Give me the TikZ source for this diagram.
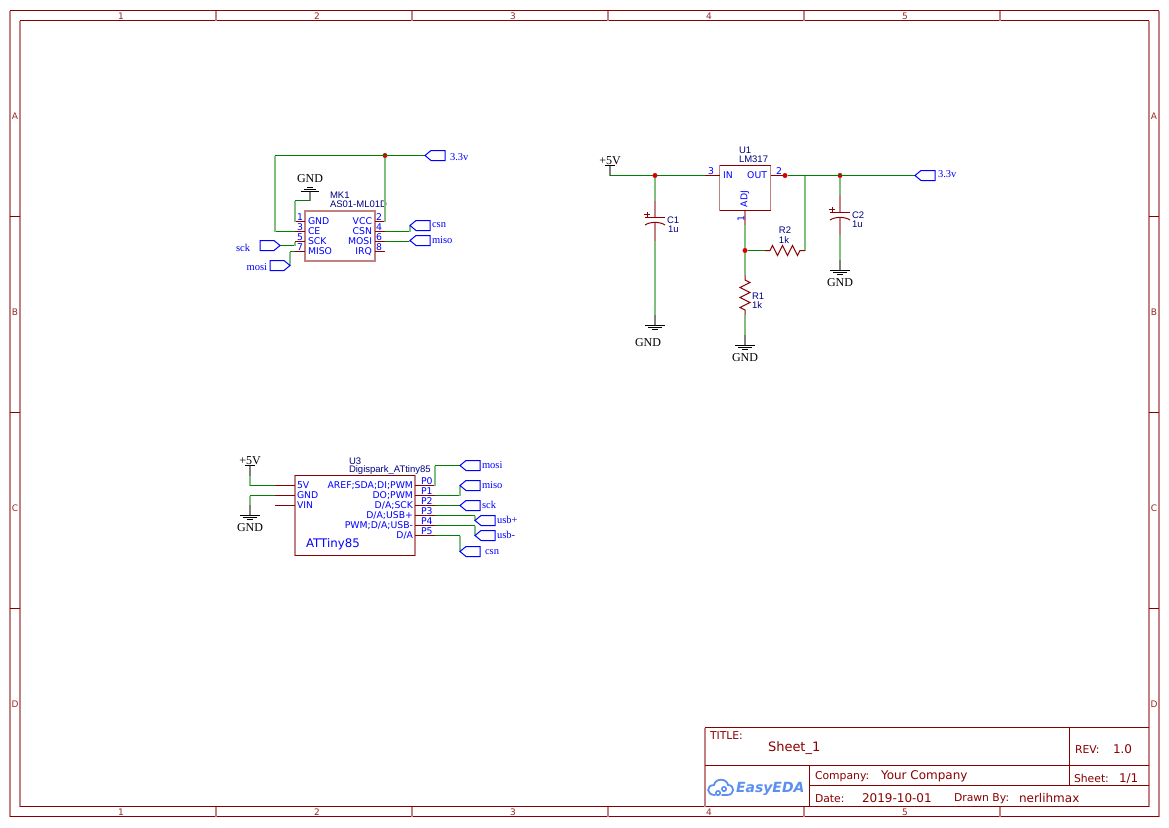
\documentclass[tikz,border=0pt]{standalone}
\usepackage{fontspec}
\setmainfont{DejaVu Sans}
\newfontfamily\netfont{Liberation Serif}
\newfontfamily\partfont{Liberation Sans}
\definecolor{sym}{HTML}{880000}
\definecolor{net}{HTML}{008000}
\definecolor{pinblue}{HTML}{0000FF}
\definecolor{partblue}{HTML}{000080}
\definecolor{edalogo}{HTML}{5B8FF0}

\begin{document}
\begin{tikzpicture}[x=1pt,y=-1pt]
\tikzstyle{every node}=[inner sep=0pt, outer sep=0pt]
\tikzstyle{frame}=[draw=sym, line width=1pt]
\tikzstyle{framev}=[draw=sym!50, line width=1.2pt]
\tikzstyle{pin}=[draw=sym, line width=1pt]
\tikzstyle{pinv}=[draw=sym!50, line width=1.2pt]
\tikzstyle{wire}=[draw=net, line width=1pt]
\tikzstyle{wirev}=[draw=net!50, line width=1.2pt]
\tikzstyle{stem}=[draw=black, line width=1pt]
\tikzstyle{stemv}=[draw=black!50, line width=1.2pt]
\tikzstyle{port}=[draw=pinblue, line width=1pt]
\tikzstyle{chip}=[draw=sym!50, line width=1.2pt, rectangle]
\tikzstyle{dot}=[circle, fill=red!85!black, minimum width=5pt]
\tikzstyle{gridtxt}=[text=sym!85!white, font=\fontsize{9}{9}\selectfont]
\tikzstyle{pintxt}=[text=pinblue, font=\fontsize{9.3}{9.3}\selectfont]
\tikzstyle{parttxt}=[text=partblue, font=\partfont\fontsize{9.5}{9.5}\selectfont]
\tikzstyle{nettxt}=[text=pinblue, font=\netfont\fontsize{10.5}{10.5}\selectfont]
\tikzstyle{powtxt}=[text=black, font=\netfont\fontsize{12}{12}\selectfont]
\tikzstyle{titletxt}=[text=sym, font=\fontsize{10.8}{10.8}\selectfont, anchor=west]
\tikzstyle{titleval}=[text=sym, font=\fontsize{12}{12}\selectfont, anchor=west]
\useasboundingbox (0,0) rectangle (1169,827);
% sheet frame
\draw[framev] (10,10.5) -- (10,816.5) (20,20.5) -- (20,806.5) (1149,20.5) -- (1149,806.5) (1159,10.5) -- (1159,816.5);
\draw[frame] (10,10.5) -- (1159,10.5) (20,20.5) -- (1149,20.5) (20,806.5) -- (1149,806.5) (10,816.5) -- (1159,816.5);
\foreach \x in {216,412,608,804,1000} {
  \draw[framev] (\x,10.5) -- (\x,20.5);
  \draw[framev] (\x,806.5) -- (\x,816.5);
}
\foreach \y in {216.5,412.5,608.5} {
  \draw[frame] (10,\y) -- (20,\y);
  \draw[frame] (1149,\y) -- (1159,\y);
}
\foreach \n/\x in {1/121,2/317,3/513,4/709,5/905} {
  \node (top\n) [gridtxt] at (\x,16) {\n};
  \node (bot\n) [gridtxt] at (\x,812) {\n};
}
\foreach \n/\y in {A/116,B/312,C/508,D/704} {
  \node (lft\n) [gridtxt] at (15,\y) {\n};
  \node (rgt\n) [gridtxt] at (1154,\y) {\n};
}
% title block
\draw[framev] (705,727.5) -- (705,806.5);
\draw[frame] (705,727.5) -- (1149,727.5);
\draw[frame] (705,765.5) -- (1149,765.5);
\draw[frame] (809.5,785.5) -- (1149,785.5);
\draw[frame] (809.5,765.5) -- (809.5,806.5);
\draw[frame] (1069.5,727.5) -- (1069.5,785.5);
\node (tbtitle) [titletxt] at (710,735.5) {TITLE:};
\node (tbname) [titletxt, font=\fontsize{13}{13}\selectfont] at (768,748.5) {Sheet\_1};
\node (tbrev) [titletxt] at (1075,749.5) {REV:};
\node (tbrevno) [titleval] at (1113,749) {1.0};
\node (tbcomp) [titletxt] at (815,777) {Company:};
\node (tbcompname) [titleval] at (881,776) {Your Company};
\node (tbsheet) [titletxt] at (1074,778.5) {Sheet:};
\node (tbsheetno) [titleval] at (1119,778.5) {1/1};
\node (tbdate) [titletxt] at (815,798.5) {Date:};
\node (tbdateval) [titleval] at (862,798) {2019-10-01};
\node (tbby) [titletxt] at (954,798.5) {Drawn By:};
\node (tbbyname) [titleval] at (1019,798) {nerlihmax};
\draw[edalogo, line width=1.8pt, line cap=round] (715,795) .. controls (706,795) and (706,785) .. (714,785) .. controls (715,778) and (727,778) .. (728,785) .. controls (735,785) and (735,795) .. (727,795) -- (722,795);
\draw[edalogo, line width=1.6pt] (718,793) circle (2.2pt);
\draw[edalogo, line width=1.6pt] (724,789) circle (2.2pt);
\node (logotxt) [anchor=west, text=edalogo, font=\bfseries\itshape\fontsize{14}{14}\selectfont] at (736,789) {EasyEDA};
% MK1
\node (mk) [chip, minimum width=70pt, minimum height=50pt] at (340,236) {};
\coordinate (mk1) at (295,221.5);
\coordinate (mk3) at (295,231.5);
\coordinate (mk5) at (295,241.5);
\coordinate (mk7) at (295,251.5);
\coordinate (mk2) at (385,221.5);
\coordinate (mk4) at (385,231.5);
\coordinate (mk6) at (385,241.5);
\coordinate (mk8) at (385,251.5);
\foreach \p in {mk1,mk3,mk5,mk7} \draw[pin] (\p) -- (mk.west |- \p);
\foreach \p in {mk2,mk4,mk6,mk8} \draw[pin] (mk.east |- \p) -- (\p);
\node (mkgnd) [pintxt, anchor=west] at (308,221.5) {GND};
\node (mkce) [pintxt, anchor=west] at (308,231.5) {CE};
\node (mksck) [pintxt, anchor=west] at (308,241.5) {SCK};
\node (mkmiso) [pintxt, anchor=west] at (308,251.5) {MISO};
\node (mkvcc) [pintxt, anchor=east] at (372,221.5) {VCC};
\node (mkcsn) [pintxt, anchor=east] at (372,231.5) {CSN};
\node (mkmosi) [pintxt, anchor=east] at (372,241.5) {MOSI};
\node (mkirq) [pintxt, anchor=east] at (372,251.5) {IRQ};
\node (mkn1) [pintxt] at (300,217) {1};
\node (mkn3) [pintxt] at (300,227) {3};
\node (mkn5) [pintxt] at (300,237) {5};
\node (mkn7) [pintxt] at (300,247) {7};
\node (mkn2) [pintxt] at (379,217) {2};
\node (mkn4) [pintxt] at (379,227) {4};
\node (mkn6) [pintxt] at (379,237) {6};
\node (mkn8) [pintxt] at (379,247) {8};
\node (mkref) [parttxt, anchor=west] at (330,195.5) {MK1};
\node (mkval) [parttxt, anchor=west] at (330,204.5) {AS01-ML01D};
\coordinate (g1) at (310,191.5);
\coordinate (g1a) at (310,200.5);
\draw[stemv] (g1) -- (g1a);
\draw[wire] (g1a) -- (g1a -| mk1);
\draw[wirev] (g1a -| mk1) -- (mk1);
\draw[stem] (301,191.5) -- (319,191.5) (304,189.5) -- (316,189.5) (307,187.5) -- (313,187.5);
\node (g1txt) [powtxt] at (310,179) {GND};
\coordinate (pa) at (425,155.5);
\node (ja) [dot] at (385,155.5) {};
\coordinate (ca) at (275,155.5);
\draw[wire] (mk3) -- (mk3 -| ca);
\draw[wirev] (mk3 -| ca) -- (ca);
\draw[wire] (ca) -- (pa);
\draw[wirev] (ja) -- (mk2 -| ja);
\draw[wire] (mk2 -| ja) -- (mk2);
\coordinate (pb) at (410,225.5);
\coordinate (pc) at (410,240.5);
\draw[wire] (mk4) -- (mk4 -| pb);
\draw[wirev] (mk4 -| pb) -- (pb);
\draw[wire] (mk6) -- (mk6 -| pc);
\draw[wirev] (mk6 -| pc) -- (pc);
\coordinate (pd) at (280,245.5);
\coordinate (pe) at (290,265.5);
\draw[wire] (pd) -- (pd -| mk5);
\draw[wirev] (pd -| mk5) -- (mk5);
\draw[wire] (mk7) -- (mk7 -| pe);
\draw[wirev] (mk7 -| pe) -- (pe);
\foreach \p in {pa,pb,pc} \draw[port] (\p) -- ++(6,-5) -- ++(14,0) -- ++(0,10) -- ++(-14,0) -- cycle;
\foreach \p in {pd,pe} \draw[port] (\p) -- ++(-6,-5) -- ++(-14,0) -- ++(0,10) -- ++(14,0) -- cycle;
\node (patxt) [nettxt, anchor=west] at (450,157) {3.3v};
\node (pbtxt) [nettxt, anchor=west] at (432,225.5) {csn};
\node (pctxt) [nettxt, anchor=west] at (432,240.5) {miso};
\node (pdtxt) [nettxt, anchor=east] at (250,247.5) {sck};
\node (petxt) [nettxt, anchor=east] at (267,267.5) {mosi};
% U1
\node (u1) [chip, minimum width=51pt, minimum height=45pt] at (745,188) {};
\draw[frame] (u1.north west) -- (u1.north east) (u1.south west) -- (u1.south east);
\coordinate (u1in) at (705,175.5);
\coordinate (u1out) at (785,175.5);
\coordinate (u1adj) at (745,225);
\draw[pin] (u1in) -- (u1.west |- u1in);
\draw[pin] (u1.east |- u1out) -- (u1out);
\draw[pinv] (u1.south) -- (u1adj);
\node (u1ref) [parttxt, anchor=west] at (739,150) {U1};
\node (u1val) [parttxt, anchor=west] at (739,159) {LM317};
\node (u1n3) [pintxt] at (711,171) {3};
\node (u1n2) [pintxt] at (779,171) {2};
\node (u1n1) [pintxt, rotate=90] at (741,219) {1};
\node (u1a) [pintxt, anchor=west] at (723,175.5) {IN};
\node (u1b) [pintxt, anchor=east] at (767,175.5) {OUT};
\node (u1c) [pintxt, rotate=90] at (745,199) {ADJ};
% 5V rail and C1
\coordinate (v1) at (610,165.5);
\coordinate (v1a) at (610,175.5);
\draw[stemv] (v1) -- (v1a);
\draw[stem] (605,165.5) -- (615,165.5);
\node (v1txt) [powtxt] at (610,161) {+5V};
\draw[wire] (v1a) -- (u1in);
\node (jb) [dot] at (655,175.5) {};
\coordinate (c1a) at (655,200.5);
\coordinate (c1b) at (655,240.5);
\coordinate (g2a) at (655,315);
\coordinate (g2) at (655,325);
\draw[wirev] (jb) -- (c1a);
\draw[pinv] (c1a) -- (655,217.5) (655,222) -- (c1b);
\draw[pin] (645,217.5) -- (665,217.5);
\draw[pin] (645,225) .. controls (650,221.5) and (660,221.5) .. (665,225);
\draw[pin] (644,214.5) -- (650,214.5) (647,212) -- (647,217);
\draw[wirev] (c1b) -- (g2a);
\draw[stemv] (g2a) -- (g2);
\draw[stem] (645,325.5) -- (665,325.5) (648,327.5) -- (662,327.5) (652,329.5) -- (658,329.5);
\node (c1ref) [parttxt, anchor=west] at (667,220) {C1};
\node (c1val) [parttxt, anchor=west] at (668,229) {1u};
\node (g2txt) [powtxt] at (648,343) {GND};
% output rail, R2 and C2
\node (jc) [dot] at (785,175.5) {};
\node (jd) [dot] at (840,175.5) {};
\coordinate (pf) at (915,175.5);
\draw[wire] (jc) -- (pf);
\draw[port] (pf) -- ++(6,-5) -- ++(14,0) -- ++(0,10) -- ++(-14,0) -- cycle;
\node (pftxt) [nettxt, anchor=west] at (938,174.5) {3.3v};
\coordinate (r2b) at (805,250.5);
\coordinate (je2) at (805,175.5);
\draw[wirev] (r2b) -- (je2);
\node (je) [dot] at (745,250.5) {};
\coordinate (r2a) at (765,250.5);
\draw[wire] (je) -- (r2a);
\draw[pin] (r2a) -- (770,250.5) -- ++(2.5,-5) -- ++(5,10) -- ++(5,-10) -- ++(5,10) -- ++(5,-10) -- ++(5,10) -- ++(2.5,-5) -- (r2b);
\node (r2ref) [parttxt] at (785,230) {R2};
\node (r2val) [parttxt] at (784,240) {1k};
\draw[wirev] (u1adj) -- (je);
\coordinate (c2a) at (840,195);
\coordinate (c2b) at (840,235);
\coordinate (g3a) at (840,260);
\coordinate (g3) at (840,270);
\draw[wirev] (jd) -- (c2a);
\draw[pinv] (c2a) -- (840,212.5) (840,217) -- (c2b);
\draw[pin] (830,212.5) -- (850,212.5);
\draw[pin] (830,220) .. controls (835,216.5) and (845,216.5) .. (850,220);
\draw[pin] (829,209.5) -- (835,209.5) (832,207) -- (832,212);
\draw[wirev] (c2b) -- (g3a);
\draw[stemv] (g3a) -- (g3);
\draw[stem] (830,270.5) -- (850,270.5) (833,272.5) -- (847,272.5) (837,274.5) -- (843,274.5);
\node (c2ref) [parttxt, anchor=west] at (852,215) {C2};
\node (c2val) [parttxt, anchor=west] at (852,224) {1u};
\node (g3txt) [powtxt] at (840,283) {GND};
% R1
\coordinate (r1a) at (745,275);
\coordinate (r1b) at (745,315);
\coordinate (g4a) at (745,335);
\coordinate (g4) at (745,345);
\draw[wirev] (je) -- (r1a);
\draw[pin] (r1a) -- (745,280) -- ++(5,2.5) -- ++(-10,5) -- ++(10,5) -- ++(-10,5) -- ++(10,5) -- ++(-10,5) -- ++(5,2.5) -- (r1b);
\draw[wirev] (r1b) -- (g4a);
\draw[stemv] (g4a) -- (g4);
\draw[stem] (735,345.5) -- (755,345.5) (738,347.5) -- (752,347.5) (742,349.5) -- (748,349.5);
\node (r1ref) [parttxt, anchor=west] at (752,296) {R1};
\node (r1val) [parttxt, anchor=west] at (752,305) {1k};
\node (g4txt) [powtxt] at (745,358) {GND};
% U3
\node (u3) [chip, minimum width=120pt, minimum height=80pt] at (355,515.5) {};
\draw[frame] (u3.north west) -- (u3.north east) (u3.south west) -- (u3.south east);
\coordinate (u3l1) at (275,485.5);
\coordinate (u3l2) at (275,495.5);
\coordinate (u3l3) at (275,505.5);
\draw[pin] (u3l1) -- (u3.west |- u3l1);
\draw[pin] (u3l2) -- (u3.west |- u3l2);
\draw[pin] (u3l3) -- (u3.west |- u3l3);
\foreach \i/\y in {0/485.5,1/495.5,2/505.5,3/515.5,4/525.5,5/535.5} {
  \coordinate (u3p\i) at (435,\y);
  \draw[pin] (u3.east |- u3p\i) -- (u3p\i);
}
\node (u3ref) [parttxt, anchor=west] at (349,461) {U3};
\node (u3val) [parttxt, anchor=west] at (349,470) {Digispark\_ATtiny85};
\node (u3a) [pintxt, anchor=west] at (297,485.5) {5V};
\node (u3b) [pintxt, anchor=west] at (297,495.5) {GND};
\node (u3c) [pintxt, anchor=west] at (297,505.5) {VIN};
\node (u3d) [pintxt, anchor=east] at (413,485.5) {AREF;SDA;DI;PWM};
\node (u3e) [pintxt, anchor=east] at (413,495.5) {DO;PWM};
\node (u3f) [pintxt, anchor=east] at (413,505.5) {D/A;SCK};
\node (u3g) [pintxt, anchor=east] at (413,515.5) {D/A;USB+};
\node (u3h) [pintxt, anchor=east] at (413,525.5) {PWM;D/A;USB-};
\node (u3i) [pintxt, anchor=east] at (413,535.5) {D/A};
\node (u3j) [pintxt, anchor=west, font=\fontsize{11.8}{11.8}\selectfont] at (306,544) {ATTiny85};
\foreach \i/\y in {0/481,1/491,2/501,3/511,4/521,5/531}
  \node (u3n\i) [pintxt, anchor=west] at (421,\y) {P\i};
% U3 power
\coordinate (v2) at (250,465.5);
\coordinate (v2a) at (250,476);
\draw[stemv] (v2) -- (v2a);
\draw[stem] (245,465.5) -- (255,465.5);
\draw[wirev] (v2a) -- (v2a |- u3l1);
\draw[wire] (v2a |- u3l1) -- (u3l1);
\node (v2txt) [powtxt] at (250,461) {+5V};
\coordinate (g5a) at (250,505);
\coordinate (g5) at (250,515);
\draw[wire] (u3l2) -- (u3l2 -| g5a);
\draw[wirev] (u3l2 -| g5a) -- (g5a);
\draw[stemv] (g5a) -- (g5);
\draw[stem] (240,515.5) -- (260,515.5) (243,517.5) -- (257,517.5) (247,519.5) -- (253,519.5);
\node (g5txt) [powtxt] at (250,528) {GND};
% U3 nets
\coordinate (qa) at (460,465.5);
\coordinate (qb) at (460,485.5);
\coordinate (qc) at (460,505.5);
\coordinate (qd) at (475,520.5);
\coordinate (qe) at (475,535.5);
\coordinate (qf) at (460,551.5);
\draw[wirev] (u3p0) -- (u3p0 |- qa);
\draw[wire] (u3p0 |- qa) -- (qa);
\foreach \a/\b in {u3p1/qb,u3p3/qd,u3p4/qe,u3p5/qf} {
  \draw[wire] (\a) -- (\a -| \b);
  \draw[wirev] (\a -| \b) -- (\b);
}
\draw[wire] (u3p2) -- (qc);
\foreach \p in {qa,qb,qc,qd,qe,qf} \draw[port] (\p) -- ++(6,-5) -- ++(14,0) -- ++(0,10) -- ++(-14,0) -- cycle;
\node (qatxt) [nettxt, anchor=west] at (482,465) {mosi};
\node (qbtxt) [nettxt, anchor=west] at (482,485) {miso};
\node (qctxt) [nettxt, anchor=west] at (482,505) {sck};
\node (qdtxt) [nettxt, anchor=west] at (497,520) {usb+};
\node (qetxt) [nettxt, anchor=west] at (497,535) {usb-};
\node (qftxt) [nettxt, anchor=west] at (485,552) {csn};
\end{tikzpicture}
\end{document}
